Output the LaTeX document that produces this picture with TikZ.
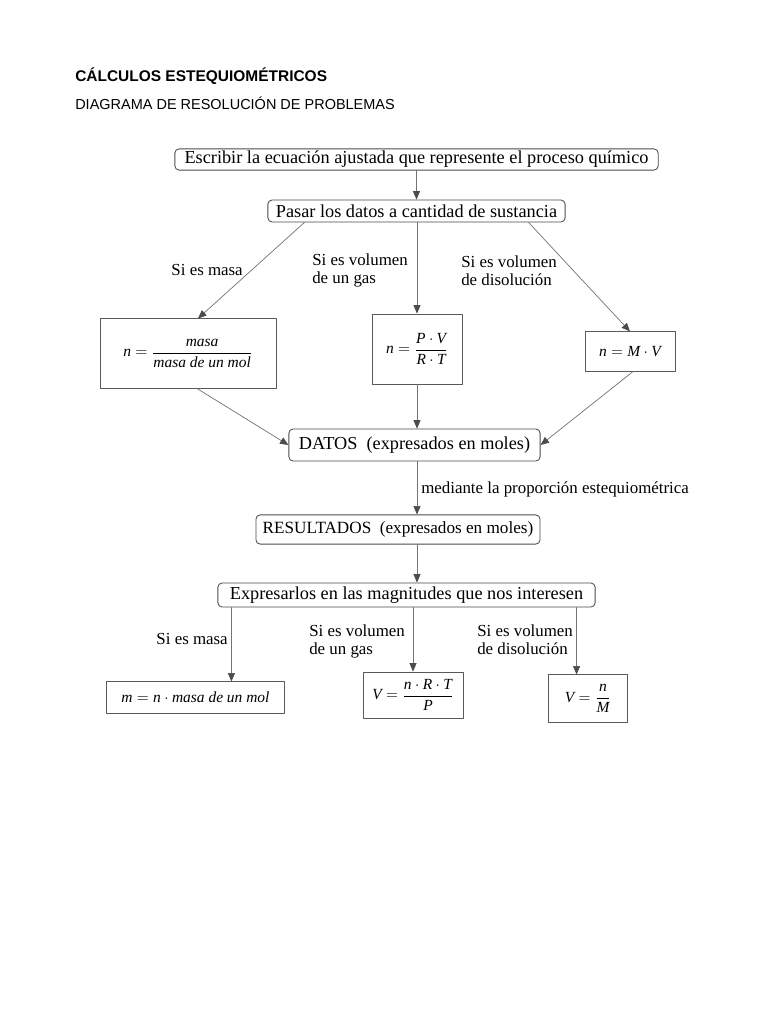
\documentclass[tikz,border=0pt]{standalone}
\usepackage{fontspec}
\setmainfont{Liberation Serif}
\newfontfamily\headfont{Liberation Sans}
\usetikzlibrary{arrows.meta,calc}

\begin{document}
\begin{tikzpicture}[x=0.025cm, y=-0.025cm, line join=round, line cap=round,
	>={Triangle[length=6pt,width=5pt,color=black!70]},
	caja/.style={draw=black!70, line width=0.6pt, inner sep=1pt, rounded corners=3pt, font=\fontsize{13}{15}\selectfont},
	formula/.style={draw=black!65, line width=0.6pt, inner sep=2pt, font=\fontsize{11}{13}\selectfont},
	flecha/.style={->, draw=black!55, line width=0.5pt},
	rotulo/.style={font=\fontsize{12}{12.5}\selectfont, align=left, inner sep=0pt}]
			\fill[white] (0,0) rectangle (768,1024);
			% titulos
			\node[anchor=west, inner sep=0pt, font=\fontsize{11}{13}\selectfont\headfont\bfseries] (titulo) at (75,76) {CÁLCULOS ESTEQUIOMÉTRICOS};
			\node[anchor=west, inner sep=0pt, font=\fontsize{10.3}{12}\selectfont\headfont] (subtitulo) at (75,103) {DIAGRAMA DE RESOLUCIÓN DE PROBLEMAS};
			% primera parte
			\node[caja, minimum width=12.08cm, minimum height=0.53cm] (escribir) at (416.5,159.5) {Escribir la ecuación ajustada que represente el proceso químico};
			\node[caja, minimum width=7.43cm, minimum height=0.55cm] (pasar) at (416.5,211) {Pasar los datos a cantidad de sustancia};
			\node[formula, minimum width=4.4cm, minimum height=1.73cm] (masa) at (188,353.5) {$\textit{n}=\displaystyle\frac{\textit{masa}}{\textit{masa de un mol}}$};
			\node[formula, minimum width=2.25cm, minimum height=1.75cm] (gas) at (417,349) {$\textit{n}=\displaystyle\frac{\textit{P}\cdot\textit{V}}{\textit{R}\cdot\textit{T}}$};
			\node[formula, minimum width=2.25cm, minimum height=0.98cm] (disol) at (630,351.5) {$\textit{n}=\textit{M}\cdot\textit{V}$};
			\node[caja, minimum width=6.28cm, minimum height=0.8cm] (datos) at (414.5,445) {DATOS~ (expresados en moles)};
			\node[caja, minimum width=7.1cm, minimum height=0.73cm, font=\fontsize{12.2}{14}\selectfont] (resultados) at (398,529.5) {RESULTADOS~ (expresados en moles)};
			\node[caja, minimum width=9.43cm, minimum height=0.6cm] (expresar) at (406.5,595) {Expresarlos en las magnitudes que nos interesen};
			% segunda parte
			\node[formula, minimum width=4.43cm, minimum height=0.78cm] (masados) at (195.5,697.5) {$\textit{m}=\textit{n}\cdot\textit{masa de un mol}$};
			\node[formula, minimum width=2.5cm, minimum height=1.15cm] (gasdos) at (413,695) {$\textit{V}=\displaystyle\frac{\textit{n}\cdot\textit{R}\cdot\textit{T}}{\textit{P}}$};
			\node[formula, minimum width=1.98cm, minimum height=1.18cm] (disoldos) at (588,698.5) {$\textit{V}=\displaystyle\frac{\textit{n}}{\textit{M}}$};
			% rotulos
			\node[rotulo, anchor=east] (simasa) at (243,270) {Si es masa};
			\node[rotulo, anchor=west] (sigas) at (312,270.5) {Si es volumen\\de un gas};
			\node[rotulo, anchor=west] (sidisol) at (461,270.5) {Si es volumen\\de disolución};
			\node[rotulo, anchor=west] (mediante) at (421,489) {mediante la proporción estequiométrica};
			\node[rotulo, anchor=east] (simasados) at (228,639) {Si es masa};
			\node[rotulo, anchor=west] (sigasdos) at (309,641.5) {Si es volumen\\de un gas};
			\node[rotulo, anchor=west] (sidisoldos) at (477,639.5) {Si es volumen\\de disolución};
			% flechas
			\draw[flecha] (escribir.south) -- (pasar.north);
			\draw[flecha] ($(pasar.south west)+(37,0)$) -- ($(masa.north)+(10,0)$);
			\draw[flecha] (gas.north |- pasar.south) -- (gas.north);
			\draw[flecha] ($(pasar.south east)+(-37,0)$) -- (disol.north);
			\draw[flecha] ($(masa.south)+(9,0)$) -- (datos.west);
			\draw[flecha] (gas.south) -- (gas.south |- datos.north);
			\draw[flecha] ($(disol.south)+(3,0)$) -- (datos.east);
			\draw[flecha] (gas.south |- datos.south) -- (gas.south |- resultados.north);
			\draw[flecha] (gas.south |- resultados.south) -- (gas.south |- expresar.north);
			\draw[flecha] ($(expresar.south west)+(14,0)$) coordinate (ma) -- (ma |- masados.north);
			\draw[flecha] (gasdos.north |- expresar.south) -- (gasdos.north);
			\draw[flecha] ($(expresar.south east)+(-19,0)$) coordinate (di) -- (di |- disoldos.north);
	\end{tikzpicture}
\end{document}
